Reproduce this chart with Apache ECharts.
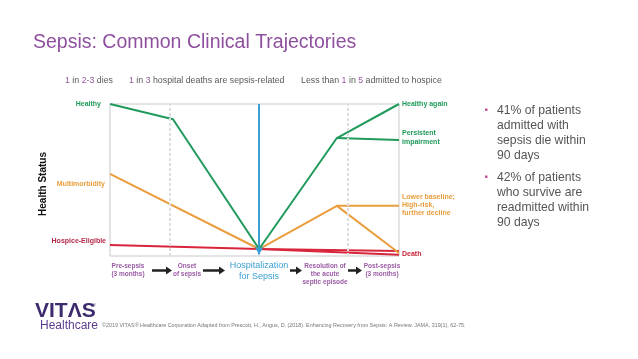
<!DOCTYPE html>
<html><head><meta charset="utf-8">
<script src="https://cdn.jsdelivr.net/npm/echarts@6/dist/echarts.min.js"></script>
<style>html,body{margin:0;padding:0;background:#fff}#c{width:638px;height:359px}</style>
</head><body><div id="c"></div>
<script>
// ---- data (x: time 0..100, y: health status 0..100) ----
const greenMain = [[0,100],[21.8,90],[51.6,4.6],[78.5,77.6],[100,100]];
const greenBranch = [[78.5,77.6],[100,76.3]];
const orangeMain = [[0,54],[51.6,4.6],[78.5,33],[100,33]];
const orangeBranch = [[78.5,33],[100,2]];
const redMain = [[0,7.2],[51.6,4.6],[100,3.3]];
const redBranch = [[51.6,4.6],[100,0.8]];
const dottedX = [20.8, 82.4];
const hospX = 51.6;
const leftLabels = ['Healthy','Multimorbidity','Hospice-Eligible'];
const rightLabels = ['Healthy again','Persistent\nimpairment','Lower baseline;\nHigh-risk,\nfurther decline','Death'];
const stages = ['Pre-sepsis\n(3 months)','Onset\nof sepsis','Hospitalization\nfor Sepsis','Resolution of\nthe acute\nseptic episode','Post-sepsis\n(3 months)'];
const bullets = ['41% of patients\nadmitted with\nsepsis die within\n90 days','42% of patients\nwho survive are\nreadmitted within\n90 days'];

const GREEN='#1f9a5a', ORANGE='#ea9d3d', RED='#d8253b', BLUE='#3a9fd2', PURP='#9a5ca4';
const F='"Liberation Sans", Arial, sans-serif';

const chart = echarts.init(document.getElementById('c'), null, {renderer:'canvas'});
function line(data,color){return {type:'line',data,symbol:'none',lineStyle:{color,width:2},silent:true,animation:false,z:3};}

function arrow(x1,x2,y){
  return {type:'group',children:[
    {type:'line',shape:{x1:x1,y1:y,x2:x2-5,y2:y},style:{stroke:'#222',lineWidth:2.5}},
    {type:'polygon',shape:{points:[[x2-6,y-4],[x2,y],[x2-6,y+4]]},style:{fill:'#222'}}
  ]};
}
const numC='#94589c', txtC='#595959';
const g = [
  {type:'text',left:33,top:33,style:{text:'Sepsis: Common Clinical Trajectories',fill:'#8f4f9f',font:'19.5px '+F}},
  {type:'text',left:65,top:76,style:{rich:{n:{fill:numC,font:'8.8px '+F},t:{fill:txtC,font:'8.8px '+F}},
     text:'{n|1}{t| in }{n|2-3}{t| dies}'}},
  {type:'text',left:129,top:76,style:{rich:{n:{fill:numC,font:'8.8px '+F},t:{fill:txtC,font:'8.8px '+F}},
     text:'{n|1}{t| in }{n|3}{t| hospital deaths are sepsis-related}'}},
  {type:'text',left:301,top:76,style:{rich:{n:{fill:numC,font:'8.8px '+F},t:{fill:txtC,font:'8.8px '+F}},
     text:'{t|Less than }{n|1}{t| in }{n|5}{t| admitted to hospice}'}},
  // left labels
  {type:'text',x:101,y:104,style:{text:leftLabels[0],fill:GREEN,font:'bold 7px '+F,align:'right',verticalAlign:'middle'}},
  {type:'text',x:105,y:184,style:{text:leftLabels[1],fill:ORANGE,font:'bold 7px '+F,align:'right',verticalAlign:'middle'}},
  {type:'text',x:106,y:241,style:{text:leftLabels[2],fill:'#b52a48',font:'bold 7px '+F,align:'right',verticalAlign:'middle'}},
  {type:'text',x:43,y:184,rotation:Math.PI/2,style:{text:'Health Status',fill:'#111',font:'bold 10px '+F,align:'center',verticalAlign:'middle'}},
  // right labels
  {type:'text',x:402,y:104,style:{text:rightLabels[0],fill:GREEN,font:'bold 7px '+F,verticalAlign:'middle'}},
  {type:'text',x:402,y:137.5,style:{text:rightLabels[1],fill:GREEN,font:'bold 7px '+F,verticalAlign:'middle',lineHeight:8.5}},
  {type:'text',x:402,y:205,style:{text:rightLabels[2],fill:ORANGE,font:'bold 7px '+F,verticalAlign:'middle',lineHeight:8}},
  {type:'text',x:402,y:254,style:{text:rightLabels[3],fill:'#c8263a',font:'bold 7px '+F,verticalAlign:'middle'}},
  // stages
  {type:'text',x:128,y:270,style:{text:stages[0],fill:PURP,font:'bold 6.5px '+F,align:'center',verticalAlign:'middle',lineHeight:8}},
  {type:'text',x:187,y:270,style:{text:stages[1],fill:PURP,font:'bold 6.5px '+F,align:'center',verticalAlign:'middle',lineHeight:8}},
  {type:'text',x:259,y:271,style:{text:stages[2],fill:BLUE,font:'9px '+F,align:'center',verticalAlign:'middle',lineHeight:10.5}},
  {type:'text',x:325,y:274,style:{text:stages[3],fill:PURP,font:'bold 6.5px '+F,align:'center',verticalAlign:'middle',lineHeight:8}},
  {type:'text',x:382,y:270,style:{text:stages[4],fill:PURP,font:'bold 6.5px '+F,align:'center',verticalAlign:'middle',lineHeight:8}},
  arrow(152,172,270.5), arrow(203,225,270.5), arrow(290,302,270.5), arrow(348,362,270.5),
  // bullets
  {type:'rect',shape:{x:485,y:108.5,width:2.5,height:2.5},style:{fill:'#c0549c'}},
  {type:'text',left:497,top:103,style:{text:bullets[0],fill:'#555',font:'12.2px '+F,lineHeight:15}},
  {type:'rect',shape:{x:485,y:175.5,width:2.5,height:2.5},style:{fill:'#c0549c'}},
  {type:'text',left:497,top:170,style:{text:bullets[1],fill:'#555',font:'12.2px '+F,lineHeight:15}},
  // logo and footer
  {type:'text',left:35,top:301,style:{text:'VIT\u039BS',fill:'#3d2b6e',font:'bold 21px '+F}},
  {type:'text',left:93,top:303,style:{text:'\u00AE',fill:'#3d2b6e',font:'4px '+F}},
  {type:'text',left:40,top:320,style:{text:'Healthcare',fill:'#5a3c8c',font:'12px '+F}},
  {type:'text',left:102,top:323,style:{text:'\u00A92019 VITAS\u00AE Healthcare Corporation Adapted from Prescott, H., Angus, D. (2018). Enhancing Recovery from Sepsis: A Review. JAMA, 319(1), 62-75.',fill:'#777',font:'5.4px '+F}}
];

chart.setOption({
  animation:false,
  grid:{left:110,top:104,right:239,bottom:103,show:true,borderColor:'#c9c9c9',borderWidth:1,backgroundColor:'transparent'},
  xAxis:{type:'value',min:0,max:100,show:false},
  yAxis:{type:'value',min:0,max:100,show:false},
  series:[
    {type:'line',data:[],symbol:'none',silent:true,
     markLine:{silent:true,symbol:'none',label:{show:false},lineStyle:{color:'#dedede',type:[3,2],width:2},
       data:dottedX.map(v=>({xAxis:v}))}},
    {type:'line',data:[],symbol:'none',silent:true,z:5,
     markLine:{silent:true,symbol:['none','arrow'],symbolSize:[7,8],label:{show:false},lineStyle:{color:BLUE,type:'solid',width:2},
       data:[[{coord:[hospX,100]},{coord:[hospX,1]}]]}},
    line(redMain,RED), line(redBranch,RED),
    line(orangeMain,ORANGE), line(orangeBranch,ORANGE),
    line(greenMain,GREEN), line(greenBranch,GREEN)
  ],
  graphic:g
});
</script></body></html>
